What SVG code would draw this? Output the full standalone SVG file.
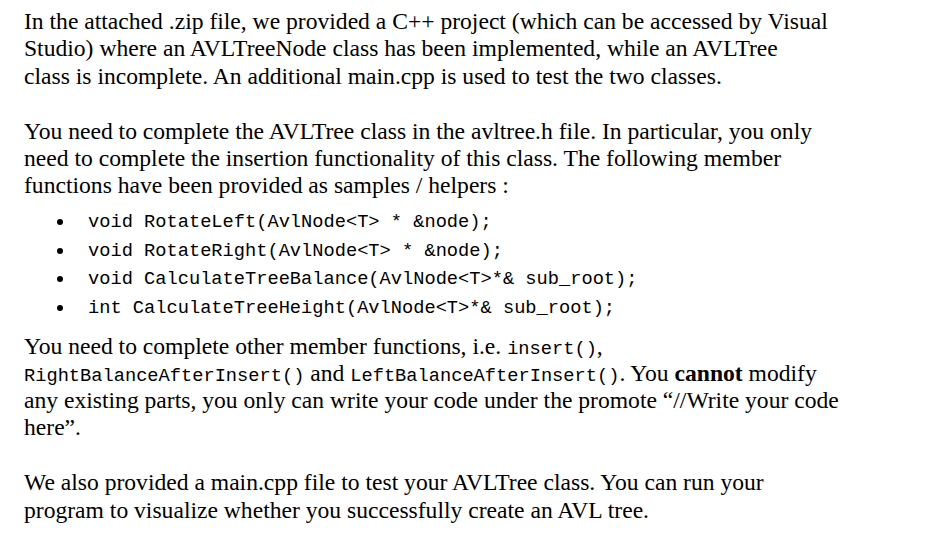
<svg xmlns="http://www.w3.org/2000/svg" width="945" height="539" viewBox="0 0 945 539">
<style>
.t{font-family:"Liberation Serif",serif;font-size:23.6px;fill:#000}
.m{font-family:"Liberation Mono",monospace;font-size:18.7px}
.b{font-weight:bold}
</style>
<rect width="945" height="539" fill="#fff"/>
<g id="p1">
<text class="t" x="24" y="29">In the attached .zip file, we provided a C++ project (which can be accessed by Visual</text>
<text class="t" x="24" y="56">Studio) where an AVLTreeNode class has been implemented, while an AVLTree</text>
<text class="t" x="24" y="84">class is incomplete. An additional main.cpp is used to test the two classes.</text>
</g>
<g id="p2">
<text class="t" x="24" y="139">You need to complete the AVLTree class in the avltree.h file. In particular, you only</text>
<text class="t" x="24" y="166">need to complete the insertion functionality of this class. The following member</text>
<text class="t" x="24" y="193">functions have been provided as samples / helpers :</text>
</g>
<g id="list">
<circle cx="60" cy="222" r="3"/><text class="t m" x="88" y="227">void RotateLeft(AvlNode&lt;T&gt; * &amp;node);</text>
<circle cx="60" cy="251" r="3"/><text class="t m" x="88" y="256">void RotateRight(AvlNode&lt;T&gt; * &amp;node);</text>
<circle cx="60" cy="279" r="3"/><text class="t m" x="88" y="284">void CalculateTreeBalance(AvlNode&lt;T&gt;*&amp; sub_root);</text>
<circle cx="60" cy="308" r="3"/><text class="t m" x="88" y="313">int CalculateTreeHeight(AvlNode&lt;T&gt;*&amp; sub_root);</text>
</g>
<g id="p3">
<text class="t" x="24" y="354">You need to complete other member functions, i.e. <tspan class="m">insert()</tspan>,</text>
<text class="t" x="24" y="381"><tspan class="m">RightBalanceAfterInsert()</tspan> and <tspan class="m">LeftBalanceAfterInsert()</tspan>. You <tspan class="b">cannot</tspan> modify</text>
<text class="t" x="24" y="408">any existing parts, you only can write your code under the promote “//Write your code</text>
<text class="t" x="24" y="435">here”.</text>
</g>
<g id="p4">
<text class="t" x="24" y="490">We also provided a main.cpp file to test your AVLTree class. You can run your</text>
<text class="t" x="24" y="518">program to visualize whether you successfully create an AVL tree.</text>
</g>
</svg>
